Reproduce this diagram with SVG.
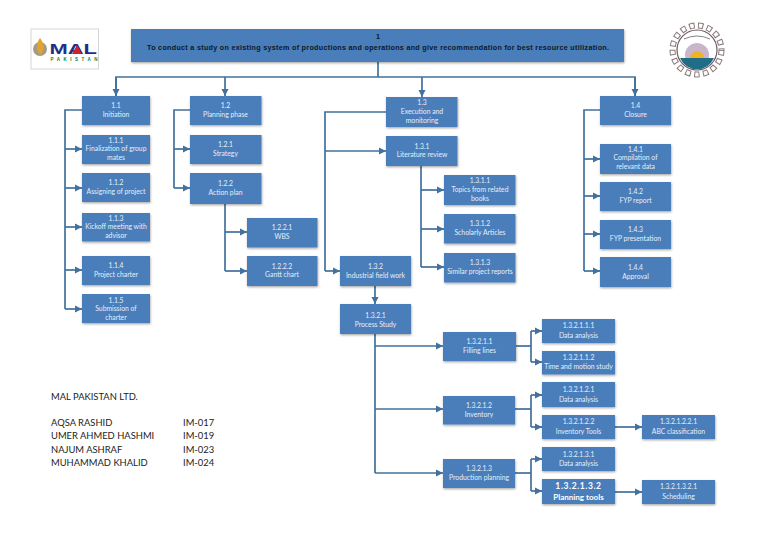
<svg xmlns="http://www.w3.org/2000/svg" width="768" height="543" viewBox="0 0 768 543">
<style>
.b{fill:#4a7ebb;filter:url(#s)}
.t{font-family:Lato,"Liberation Sans",sans-serif;font-size:6.800px;fill:#e6eef7;text-anchor:middle}
.r{font-family:"Liberation Sans",sans-serif;font-size:7.200px;font-weight:bold;fill:#0c1a26;text-anchor:middle}
.k{font-family:Lato,"Liberation Sans",sans-serif;font-size:9.400px;fill:#222}
.c{fill:none;stroke:#41719c;stroke-width:1.700}
.a{marker-end:url(#m)}
</style>
<defs>
<filter id="s" x="-10%" y="-10%" width="120%" height="125%"><feDropShadow dx="0.5" dy="1.2" stdDeviation="0.9" flood-color="#000" flood-opacity="0.35"/></filter>
<marker id="m" markerUnits="userSpaceOnUse" markerWidth="8" markerHeight="8" refX="7" refY="4" orient="auto"><path d="M0 0.5L7 4L0 7.5Z" fill="#41719c"/></marker>
</defs>
<rect width="768" height="543" fill="#fff"/>

<g id="logo-mal">
<rect x="31" y="29" width="67.500" height="40" fill="#fff" stroke="#ccc" stroke-width="0.800"/>
<circle cx="40" cy="49" r="7" fill="#a39a88"/>
<path d="M40 38C44 43 45 49 41 55C36 52 36 43 40 38Z" fill="#e0a52e"/>
<text x="49.500" y="54" font-family="Liberation Sans,sans-serif" font-size="15" font-weight="bold" fill="#1f2f87" textLength="47.500" lengthAdjust="spacingAndGlyphs">MAL</text>
<path d="M72 54L77 45L82 54Z" fill="#d3202a"/>
<text x="50.500" y="61" font-family="Liberation Sans,sans-serif" font-size="4.500" font-weight="bold" fill="#0d7a3a" textLength="47">PAKISTAN</text>
</g>
<g id="logo-seal">
<circle cx="697" cy="50" r="24.500" fill="#fff" stroke="#8a7a7a" stroke-width="6" stroke-dasharray="5.500 3.400"/>
<circle cx="697" cy="50" r="24.500" fill="none" stroke="#fff" stroke-width="4" stroke-dasharray="3.500 5.400" stroke-dashoffset="-1"/>
<circle cx="697" cy="50" r="20" fill="#fff" stroke="#6e5a62" stroke-width="1.200"/>
<circle cx="697" cy="55" r="12" fill="#c9b6cc"/>
<path d="M690 58A7 7 0 0 1 704 58Z" fill="#f0b323"/>
<path d="M680 58H714A18.500 18.500 0 0 1 680 58Z" fill="#1f6d86"/>
<path d="M684 39Q697 33 710 39" fill="none" stroke="#666" stroke-width="0.800"/>
</g>

<g id="connectors">
<path class="c" d="M378 62V77"/>
<path class="c" d="M116 96V77H635V96"/>
<path class="c a" d="M116 77V96"/><path class="c a" d="M225 77V96"/><path class="c a" d="M422 77V97"/><path class="c a" d="M635 77V96"/>
<path class="c" d="M82 110H65V309"/>
<path class="c a" d="M65 149H82"/><path class="c a" d="M65 188H82"/><path class="c a" d="M65 227H82"/><path class="c a" d="M65 270H82"/><path class="c a" d="M65 309H82"/>
<path class="c" d="M190 110H174V188"/>
<path class="c a" d="M174 149H190"/><path class="c a" d="M174 188H190"/>
<path class="c" d="M225 204V271"/>
<path class="c a" d="M225 232H247"/><path class="c a" d="M225 271H247"/>
<path class="c" d="M386 112H325V271"/>
<path class="c a" d="M325 151H386"/><path class="c a" d="M325 271H340"/>
<path class="c" d="M421 166V267"/>
<path class="c a" d="M421 190H444"/><path class="c a" d="M421 229H444"/><path class="c a" d="M421 267H444"/>
<path class="c a" d="M375 286V304"/>
<path class="c" d="M375 334V473"/>
<path class="c a" d="M375 346H443"/><path class="c a" d="M375 409H443"/><path class="c a" d="M375 473H443"/>
<path class="c" d="M516 346H531"/><path class="c a" d="M531 331H542"/><path class="c a" d="M531 362H542"/><path class="c" d="M531 331V362"/>
<path class="c" d="M515 409H531"/><path class="c a" d="M531 395H542"/><path class="c a" d="M531 427H542"/><path class="c" d="M531 395V427"/>
<path class="c" d="M515 473H531"/><path class="c a" d="M531 459H542"/><path class="c a" d="M531 491H542"/><path class="c" d="M531 459V491"/>
<path class="c a" d="M615 427H642"/><path class="c a" d="M615 492H642"/>
<path class="c" d="M600 110H584V271"/>
<path class="c a" d="M584 159H600"/><path class="c a" d="M584 196H600"/><path class="c a" d="M584 234H600"/><path class="c a" d="M584 271H600"/>
</g>

<g id="n1"><rect class="b" x="131" y="29" width="493" height="33"/><text class="r" x="378" y="38.500">1</text><text class="r" x="378" y="50" textLength="462">To conduct a study on existing system of productions and operations and give recommendation for best resource utilization.</text></g>

<g id="n1-1"><rect class="b" x="82" y="96" width="68" height="29"/><text class="t" x="116" y="107.500">1.1</text><text class="t" x="116" y="116.500">Initiation</text></g>
<g id="n1-1-1"><rect class="b" x="82" y="135" width="68" height="29"/><text class="t" x="116" y="142.500">1.1.1</text><text class="t" x="116" y="150.500">Finalization of group</text><text class="t" x="116" y="159.500">mates</text></g>
<g id="n1-1-2"><rect class="b" x="82" y="173" width="68" height="29"/><text class="t" x="116" y="185">1.1.2</text><text class="t" x="116" y="194">Assigning of project</text></g>
<g id="n1-1-3"><rect class="b" x="82" y="213" width="68" height="28.500"/><text class="t" x="116" y="220.500">1.1.3</text><text class="t" x="116" y="229">Kickoff meeting with</text><text class="t" x="116" y="238">advisor</text></g>
<g id="n1-1-4"><rect class="b" x="82" y="256" width="68" height="29"/><text class="t" x="116" y="267.500">1.1.4</text><text class="t" x="116" y="277">Project charter</text></g>
<g id="n1-1-5"><rect class="b" x="82" y="294" width="68" height="29"/><text class="t" x="116" y="302.500">1.1.5</text><text class="t" x="116" y="311">Submission of</text><text class="t" x="116" y="319.500">charter</text></g>

<g id="n1-2"><rect class="b" x="190" y="96" width="71.500" height="29"/><text class="t" x="225.500" y="108">1.2</text><text class="t" x="225.500" y="117">Planning phase</text></g>
<g id="n1-2-1"><rect class="b" x="190" y="135" width="71.500" height="29"/><text class="t" x="225.500" y="147">1.2.1</text><text class="t" x="225.500" y="156">Strategy</text></g>
<g id="n1-2-2"><rect class="b" x="190" y="173" width="71.500" height="31"/><text class="t" x="225.500" y="186">1.2.2</text><text class="t" x="225.500" y="194.500">Action plan</text></g>
<g id="n1-2-2-1"><rect class="b" x="247" y="218" width="70.500" height="29.500"/><text class="t" x="282" y="230">1.2.2.1</text><text class="t" x="282" y="239">WBS</text></g>
<g id="n1-2-2-2"><rect class="b" x="247" y="256" width="70.500" height="30"/><text class="t" x="282" y="268.500">1.2.2.2</text><text class="t" x="282" y="277">Gantt chart</text></g>

<g id="n1-3"><rect class="b" x="386" y="97" width="71.500" height="30"/><text class="t" x="422" y="105">1.3</text><text class="t" x="422" y="113.500">Execution and</text><text class="t" x="422" y="122.500">monitoring</text></g>
<g id="n1-3-1"><rect class="b" x="386" y="136" width="71.500" height="30"/><text class="t" x="422" y="148.500">1.3.1</text><text class="t" x="422" y="157">Literature review</text></g>
<g id="n1-3-1-1"><rect class="b" x="444" y="175" width="71.500" height="30"/><text class="t" x="480" y="183">1.3.1.1</text><text class="t" x="480" y="191.500">Topics from related</text><text class="t" x="480" y="200.500">books</text></g>
<g id="n1-3-1-2"><rect class="b" x="444" y="214" width="71.500" height="29.500"/><text class="t" x="480" y="226">1.3.1.2</text><text class="t" x="480" y="234.500">Scholarly Articles</text></g>
<g id="n1-3-1-3"><rect class="b" x="444" y="253" width="71.500" height="29.500"/><text class="t" x="480" y="264.500">1.3.1.3</text><text class="t" x="480" y="273.500">Similar project reports</text></g>
<g id="n1-3-2"><rect class="b" x="340" y="256" width="71" height="30"/><text class="t" x="375.500" y="269">1.3.2</text><text class="t" x="375.500" y="277.500">Industrial field work</text></g>
<g id="n1-3-2-1"><rect class="b" x="340" y="304" width="71" height="30"/><text class="t" x="375.500" y="317.500">1.3.2.1</text><text class="t" x="375.500" y="327">Process Study</text></g>
<g id="n1-3-2-1-1"><rect class="b" x="443" y="332" width="73" height="29"/><text class="t" x="479.500" y="343.500">1.3.2.1.1</text><text class="t" x="479.500" y="353">Filling lines</text></g>
<g id="n1-3-2-1-2"><rect class="b" x="443" y="396" width="72" height="28.500"/><text class="t" x="479" y="407.500">1.3.2.1.2</text><text class="t" x="479" y="417">Inventory</text></g>
<g id="n1-3-2-1-3"><rect class="b" x="443" y="459" width="72" height="29"/><text class="t" x="479" y="471">1.3.2.1.3</text><text class="t" x="479" y="479.500">Production planning</text></g>

<g id="n1-3-2-1-1-1"><rect class="b" x="542" y="319" width="73" height="24"/><text class="t" x="578.500" y="328">1.3.2.1.1.1</text><text class="t" x="578.500" y="338">Data analysis</text></g>
<g id="n1-3-2-1-1-2"><rect class="b" x="542" y="351" width="73" height="23.500"/><text class="t" x="578.500" y="360">1.3.2.1.1.2</text><text class="t" x="578.500" y="369">Time and motion study</text></g>
<g id="n1-3-2-1-2-1"><rect class="b" x="542" y="382" width="73" height="25"/><text class="t" x="578.500" y="391.500">1.3.2.1.2.1</text><text class="t" x="578.500" y="401.500">Data analysis</text></g>
<g id="n1-3-2-1-2-2"><rect class="b" x="542" y="415" width="73" height="24"/><text class="t" x="578.500" y="424">1.3.2.1.2.2</text><text class="t" x="578.500" y="434">Inventory Tools</text></g>
<g id="n1-3-2-1-3-1"><rect class="b" x="542" y="447" width="73" height="24"/><text class="t" x="578.500" y="456.500">1.3.2.1.3.1</text><text class="t" x="578.500" y="466">Data analysis</text></g>
<g id="n1-3-2-1-3-2"><rect class="b" x="542" y="479" width="73" height="25"/><text x="578.500" y="489" text-anchor="middle" font-family="Lato,Liberation Sans,sans-serif" font-size="8.500" font-weight="bold" fill="#fff" letter-spacing="0.600">1.3.2.1.3.2</text><text x="578.500" y="500" text-anchor="middle" font-family="Lato,Liberation Sans,sans-serif" font-size="8" font-weight="bold" fill="#fff">Planning tools</text></g>
<g id="n1-3-2-1-2-2-1"><rect class="b" x="642" y="415" width="73" height="24"/><text class="t" x="678.500" y="424">1.3.2.1.2.2.1</text><text class="t" x="678.500" y="434">ABC classification</text></g>
<g id="n1-3-2-1-3-2-1"><rect class="b" x="642" y="480" width="73" height="24"/><text class="t" x="678.500" y="489">1.3.2.1.3.2.1</text><text class="t" x="678.500" y="499">Scheduling</text></g>

<g id="n1-4"><rect class="b" x="600" y="96" width="71" height="29"/><text class="t" x="635.500" y="107.500">1.4</text><text class="t" x="635.500" y="116.500">Closure</text></g>
<g id="n1-4-1"><rect class="b" x="600" y="144" width="71" height="30"/><text class="t" x="635.500" y="151.500">1.4.1</text><text class="t" x="635.500" y="160">Compilation of</text><text class="t" x="635.500" y="169">relevant data</text></g>
<g id="n1-4-2"><rect class="b" x="600" y="182" width="71" height="29"/><text class="t" x="635.500" y="194">1.4.2</text><text class="t" x="635.500" y="202.500">FYP report</text></g>
<g id="n1-4-3"><rect class="b" x="600" y="220" width="71" height="29"/><text class="t" x="635.500" y="232">1.4.3</text><text class="t" x="635.500" y="240.500">FYP presentation</text></g>
<g id="n1-4-4"><rect class="b" x="600" y="257" width="71" height="30"/><text class="t" x="635.500" y="270">1.4.4</text><text class="t" x="635.500" y="279">Approval</text></g>

<g id="team">
<text class="k" x="51" y="399.500">MAL PAKISTAN LTD.</text>
<text class="k" x="51" y="426">AQSA RASHID</text><text class="k" x="183" y="426">IM-017</text>
<text class="k" x="51" y="439">UMER AHMED HASHMI</text><text class="k" x="183" y="439">IM-019</text>
<text class="k" x="51" y="452.500">NAJUM ASHRAF</text><text class="k" x="183" y="452.500">IM-023</text>
<text class="k" x="51" y="465.500">MUHAMMAD KHALID</text><text class="k" x="183" y="465.500">IM-024</text>
</g>
</svg>
